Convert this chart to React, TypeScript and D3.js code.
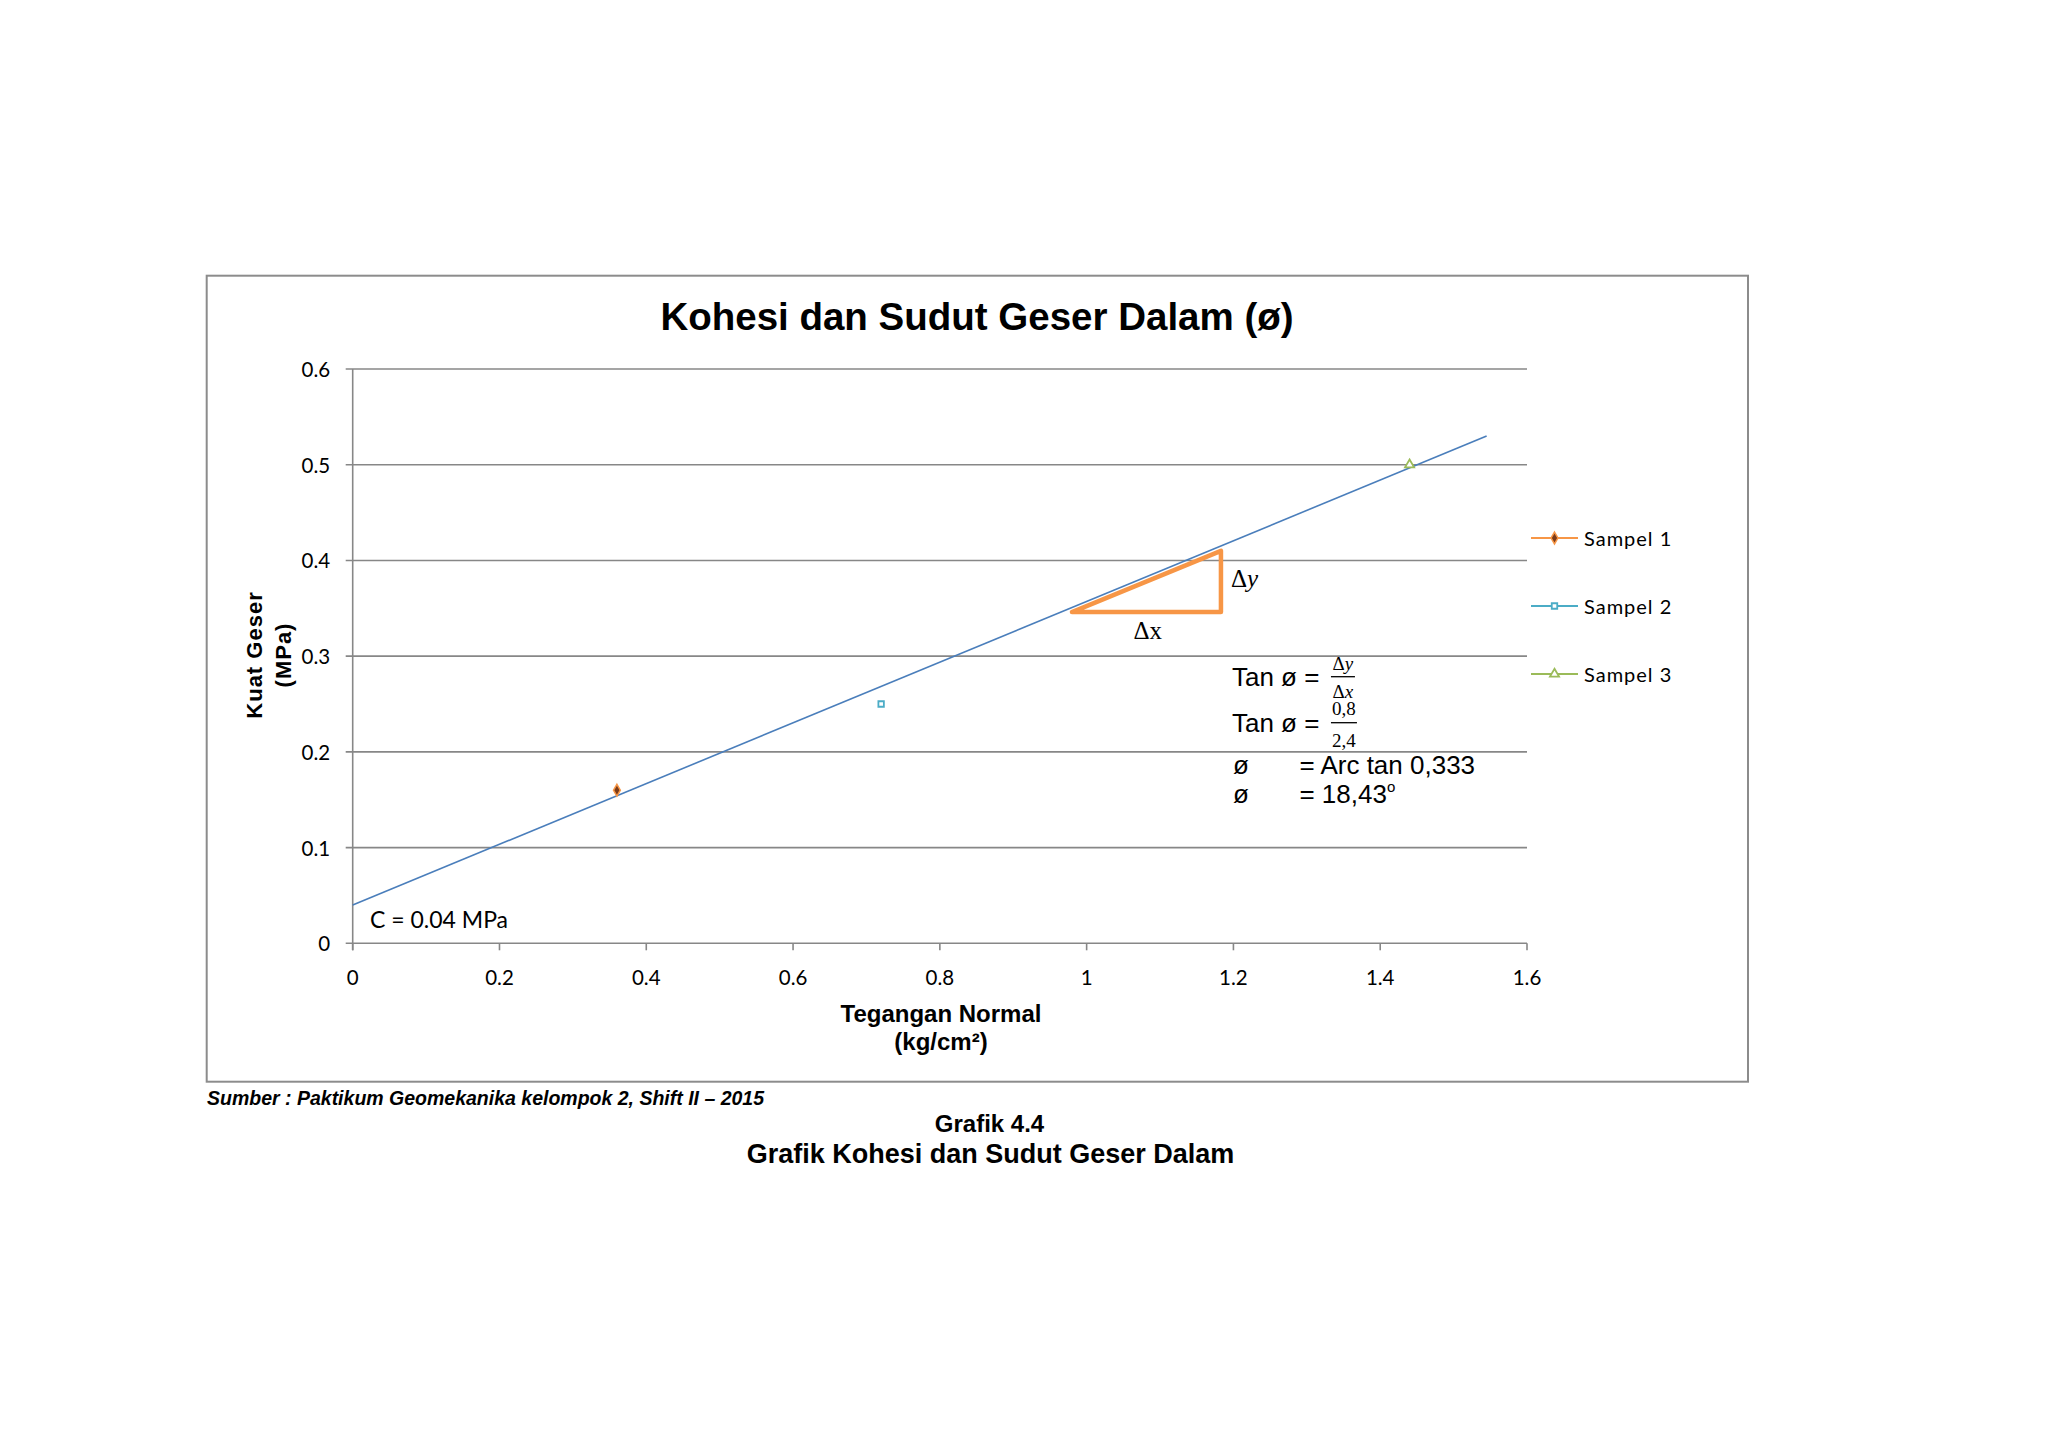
import * as d3 from 'd3';

const X_TICKS = [0, 0.2, 0.4, 0.6, 0.8, 1, 1.2, 1.4, 1.6];
const X_LABELS = ['0', '0.2', '0.4', '0.6', '0.8', '1', '1.2', '1.4', '1.6'];
const Y_TICKS = [0, 0.1, 0.2, 0.3, 0.4, 0.5, 0.6];
const Y_LABELS = ['0', '0.1', '0.2', '0.3', '0.4', '0.5', '0.6'];

const SERIES = ['Sampel 1', 'Sampel 2', 'Sampel 3'];
const SAMPLE_X = [0.36, 0.72, 1.44];
const SAMPLE_Y = [0.16, 0.25, 0.5];
const SERIES_COLORS = ['#f79646', '#4bacc6', '#9bbb59'];

// linear trendline
const TREND_X = [0, 1.545];
const TREND_Y = [0.04, 0.53];

// orange slope triangle (dx, dy)
const TRI_X = [0.98, 1.183];
const TRI_Y = [0.346, 0.41];

const SANS = '"Liberation Sans", Arial, sans-serif';
const CALIBRI = 'Lato, "Open Sans", sans-serif';
const MATH = '"Liberation Serif", "DejaVu Serif", serif';

export default function App() {
  const W = 2048;
  const H = 1448;
  const x = d3.scaleLinear().domain([0, 1.6]).range([352.7, 1527]);
  const y = d3.scaleLinear().domain([0, 0.6]).range([943.3, 369]);
  const grid = '#878787';

  const trend = d3.line<number>()
    .x(d => x(TREND_X[d]))
    .y(d => y(TREND_Y[d]))([0, 1]) ?? '';

  const tri = d3.line<[number, number]>()
    .x(d => x(d[0]))
    .y(d => y(d[1]))([
      [TRI_X[0], TRI_Y[0]],
      [TRI_X[1], TRI_Y[1]],
      [TRI_X[1], TRI_Y[0]],
    ]) + 'Z';

  const symbols = [d3.symbolDiamond, d3.symbolSquare, d3.symbolTriangle];
  const marker = (i: number, cx: number, cy: number) => {
    const size = i === 0 ? 40 : i === 1 ? 30 : 36;
    const path = d3.symbol(symbols[i], size)() ?? '';
    return (
      <path
        d={path}
        transform={`translate(${cx},${cy})`}
        fill={i === 0 ? '#7a3b1a' : '#ffffff'}
        stroke={SERIES_COLORS[i]}
        strokeWidth={i === 0 ? 1.5 : 1.8}
      />
    );
  };

  // anchors for the slope notes
  const noteX = x(TRI_X[1]) + 11;
  const fracX = noteX + 99;

  return (
    <svg width={W} height={H} style={{ position: 'absolute', left: 0, top: 0, background: '#fff' }}>
      <rect x={0} y={0} width={W} height={H} fill="#ffffff" />

      {/* chart frame */}
      <rect x={206.7} y={275.7} width={1541.3} height={806} fill="#fff" stroke="#8c8c8c" strokeWidth={2} />

      <text x={977} y={330} textAnchor="middle" fontFamily={SANS} fontWeight="bold" fontSize={38.5} fill="#000">
        Kohesi dan Sudut Geser Dalam (ø)
      </text>

      {/* grid */}
      {Y_TICKS.map(t => (
        <line key={'g' + t} x1={x(0) - 7} x2={x(1.6)} y1={y(t)} y2={y(t)} stroke={grid} strokeWidth={1.6} />
      ))}
      <line x1={x(0)} x2={x(0)} y1={y(0.6)} y2={y(0) + 7} stroke={grid} strokeWidth={1.6} />
      {X_TICKS.map(t => (
        <line key={'xt' + t} x1={x(t)} x2={x(t)} y1={y(0)} y2={y(0) + 7} stroke={grid} strokeWidth={1.6} />
      ))}

      {/* tick labels */}
      {Y_TICKS.map((t, i) => (
        <text key={'yl' + t} x={x(0) - 22.5} y={y(t)} textAnchor="end" dominantBaseline="central"
          fontFamily={CALIBRI} fontSize={20.5} fill="#000">{Y_LABELS[i]}</text>
      ))}
      {X_TICKS.map((t, i) => (
        <text key={'xl' + t} x={x(t)} y={y(0) + 34} textAnchor="middle" dominantBaseline="central"
          fontFamily={CALIBRI} fontSize={20.5} fill="#000">{X_LABELS[i]}</text>
      ))}

      {/* axis titles */}
      <g fontFamily={SANS} fontWeight="bold" fontSize={22} fill="#000" letterSpacing={1} textAnchor="middle">
        <text transform="translate(261.5,655) rotate(-90)">Kuat Geser</text>
        <text transform="translate(291,655) rotate(-90)">(MPa)</text>
      </g>
      <g fontFamily={SANS} fontWeight="bold" fontSize={24} fill="#000" textAnchor="middle">
        <text x={941} y={1022}>Tegangan Normal</text>
        <text x={941} y={1049.5}>(kg/cm²)</text>
      </g>

      {/* trendline */}
      <path d={trend} fill="none" stroke="#4a7ebb" strokeWidth={1.6} />

      {/* slope triangle */}
      <path d={tri} fill="none" stroke="#f79646" strokeWidth={4.5} strokeLinejoin="round" />

      {/* samples */}
      {SAMPLE_X.map((v, i) => (
        <g key={'s' + i}>{marker(i, x(v), y(SAMPLE_Y[i]))}</g>
      ))}

      {/* annotations */}
      <text x={x(TRI_X[1]) + 10} y={y(TRI_Y[0]) - 25} fontFamily={MATH} fontSize={25} fill="#000">
        Δ<tspan fontStyle="italic">y</tspan>
      </text>
      <text x={x((TRI_X[0] + TRI_X[1]) / 2) - 13} y={y(TRI_Y[0]) + 27} fontFamily={MATH} fontSize={25} fill="#000">
        Δx
      </text>

      <g fontFamily={SANS} fontSize={26} fill="#000">
        <text x={noteX} y={685.7}>Tan ø =</text>
        <text x={noteX} y={731.7}>Tan ø =</text>
        <text x={noteX + 1} y={774}>ø</text>
        <text x={noteX + 67.5} y={774}>= Arc tan 0,333</text>
        <text x={noteX + 1} y={803.3}>ø</text>
        <text x={noteX + 67.5} y={803.3}>= 18,43<tspan fontSize={15} dy={-11}>o</tspan></text>
      </g>
      <g fontFamily={MATH} fontSize={19} fill="#000" textAnchor="middle">
        <text x={fracX + 12} y={670}>Δ<tspan fontStyle="italic">y</tspan></text>
        <line x1={fracX} x2={fracX + 24} y1={676.7} y2={676.7} stroke="#000" strokeWidth={1.3} />
        <text x={fracX + 12} y={698}>Δ<tspan fontStyle="italic">x</tspan></text>
        <text x={fracX + 13} y={715}>0,8</text>
        <line x1={fracX} x2={fracX + 26} y1={722.7} y2={722.7} stroke="#000" strokeWidth={1.3} />
        <text x={fracX + 13} y={746.7}>2,4</text>
      </g>

      <text x={370} y={928} fontFamily={CALIBRI} fontSize={23} fill="#000">C = 0.04 MPa</text>

      {/* legend */}
      {SERIES.map((s, i) => {
        const ly = 538 + i * 68;
        return (
          <g key={s}>
            <line x1={1531} x2={1578} y1={ly} y2={ly} stroke={SERIES_COLORS[i]} strokeWidth={2} />
            {marker(i, 1554.5, ly)}
            <text x={1584} y={ly} dominantBaseline="central" fontFamily={CALIBRI} fontSize={20}
              letterSpacing={1} fill="#000">{s}</text>
          </g>
        );
      })}

      {/* captions under the chart */}
      <text x={207} y={1105} fontFamily={SANS} fontWeight="bold" fontStyle="italic" fontSize={19.5} fill="#000">
        Sumber : Paktikum Geomekanika kelompok 2, Shift II – 2015
      </text>
      <g fontFamily={SANS} fontWeight="bold" fill="#000" textAnchor="middle">
        <text x={989.5} y={1132} fontSize={24}>Grafik 4.4</text>
        <text x={990.5} y={1163} fontSize={27}>Grafik Kohesi dan Sudut Geser Dalam</text>
      </g>
    </svg>
  );
}
